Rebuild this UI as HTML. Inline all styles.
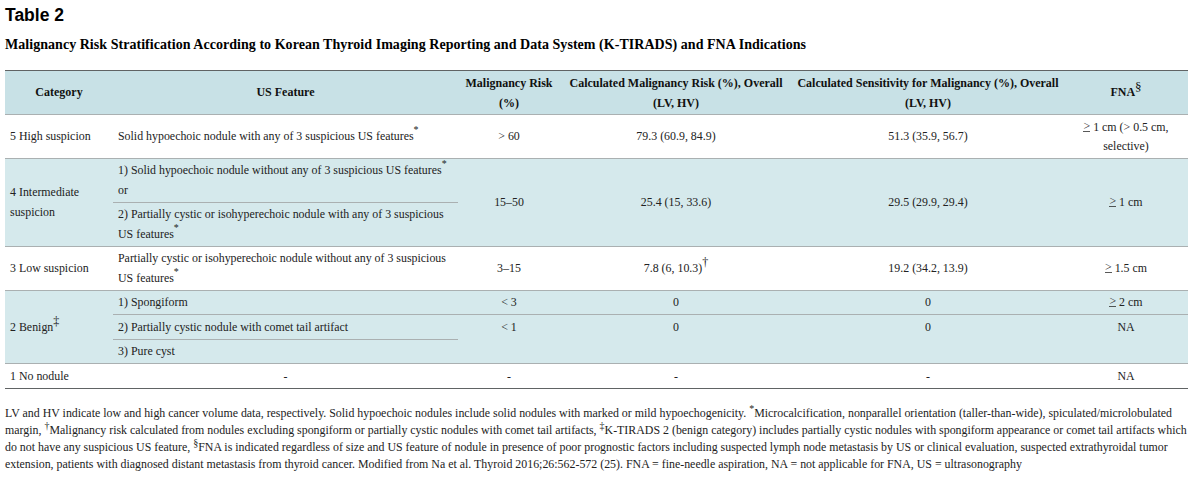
<!DOCTYPE html>
<html><head><meta charset="utf-8">
<style>
html,body{margin:0;padding:0;background:#fff;width:1200px;height:480px;overflow:hidden;position:relative}
div{position:absolute;box-sizing:border-box}
.t2{left:5px;top:5px;font-family:"Liberation Sans",sans-serif;font-weight:bold;font-size:17.5px;line-height:20px;color:#000;white-space:nowrap}
.ti{left:5px;top:37px;font-family:"Liberation Serif",serif;font-weight:bold;font-size:14px;letter-spacing:0.04px;line-height:16px;color:#000;white-space:nowrap}
.c{font-family:"Liberation Serif",serif;font-size:11.9px;line-height:20px;color:#222;white-space:nowrap}
.b{font-weight:bold;color:#111;font-size:12px}
sup{font-size:12px;line-height:0;vertical-align:6px}
sup.as{font-size:10px;vertical-align:7px}
.ge{position:relative;display:inline-block}
.ge i{font-style:normal;position:relative;top:-1px}
.ge::after{content:"";position:absolute;left:0px;width:7px;top:14px;height:1px;background:currentColor;opacity:0.75}
.sh{font-size:13px;vertical-align:5px;font-weight:normal}
.fn sup{font-size:10px;vertical-align:5px}
.fn{left:5px;top:405px;width:1190px;font-family:"Liberation Serif",serif;font-size:11.9px;line-height:17px;color:#222;white-space:nowrap}
</style></head><body>
<div class="t2">Table 2</div>
<div class="ti">Malignancy Risk Stratification According to Korean Thyroid Imaging Reporting and Data System (K-TIRADS) and FNA Indications</div>
<div style="left:5px;top:71px;width:1183px;height:43px;background:#c8e1e6"></div>
<div style="left:5px;top:159px;width:1183px;height:87px;background:#d5e9ec"></div>
<div style="left:5px;top:291px;width:1183px;height:72px;background:#d5e9ec"></div>
<div style="left:5px;top:70px;width:1183px;height:1px;background:#606364"></div>
<div style="left:5px;top:114px;width:1183px;height:1px;background:#aab0b1"></div>
<div style="left:5px;top:158px;width:1183px;height:1px;background:#aab0b1"></div>
<div style="left:5px;top:246px;width:1183px;height:1px;background:#aab0b1"></div>
<div style="left:5px;top:290px;width:1183px;height:1px;background:#aab0b1"></div>
<div style="left:5px;top:363px;width:1183px;height:1px;background:#aab0b1"></div>
<div style="left:5px;top:388px;width:1183px;height:1px;background:#606364"></div>
<div style="left:113px;top:202px;width:345px;height:1px;background:#aab0b1"></div>
<div style="left:113px;top:314px;width:1075px;height:1px;background:#aab0b1"></div>
<div style="left:113px;top:339px;width:345px;height:1px;background:#aab0b1"></div>
<div class="c b" style="left:10px;top:82px;width:98px;text-align:center">Category</div>
<div class="c b" style="left:118px;top:82px;width:335px;text-align:center">US Feature</div>
<div class="c b" style="left:463px;top:73px;width:92px;text-align:center">Malignancy Risk<br>(%)</div>
<div class="c b" style="left:565px;top:73px;width:222px;text-align:center">Calculated Malignancy Risk (%), Overall<br>(LV, HV)</div>
<div class="c b" style="left:797px;top:73px;width:262px;text-align:center">Calculated Sensitivity for Malignancy (%), Overall<br>(LV, HV)</div>
<div class="c b" style="left:1069px;top:82px;width:114px;text-align:center">FNA<sup class="sh">§</sup></div>
<div class="c" style="left:10px;top:126px;width:98px;text-align:left">5 High suspicion</div>
<div class="c" style="left:118px;top:126px;width:335px;text-align:left">Solid hypoechoic nodule with any of 3 suspicious US features<sup class="as">*</sup></div>
<div class="c" style="left:463px;top:126px;width:92px;text-align:center">&gt; 60</div>
<div class="c" style="left:565px;top:126px;width:222px;text-align:center">79.3 (60.9, 84.9)</div>
<div class="c" style="left:797px;top:126px;width:262px;text-align:center">51.3 (35.9, 56.7)</div>
<div class="c" style="left:1069px;top:116px;width:114px;text-align:center"><span style="position:relative;top:1px"><span class="ge"><i>&gt;</i></span> 1 cm (&gt; 0.5 cm,</span><br>selective)</div>
<div class="c" style="left:10px;top:182px;width:98px;text-align:left">4 Intermediate<br>suspicion</div>
<div class="c" style="left:118px;top:160px;width:335px;text-align:left">1) Solid hypoechoic nodule without any of 3 suspicious US features<sup class="as">*</sup><br>or</div>
<div class="c" style="left:118px;top:204px;width:335px;text-align:left">2) Partially cystic or isohyperechoic nodule with any of 3 suspicious<br>US features<sup class="as">*</sup></div>
<div class="c" style="left:463px;top:192px;width:92px;text-align:center">15–50</div>
<div class="c" style="left:565px;top:192px;width:222px;text-align:center">25.4 (15, 33.6)</div>
<div class="c" style="left:797px;top:192px;width:262px;text-align:center">29.5 (29.9, 29.4)</div>
<div class="c" style="left:1069px;top:192px;width:114px;text-align:center"><span class="ge"><i>&gt;</i></span> 1 cm</div>
<div class="c" style="left:10px;top:258px;width:98px;text-align:left">3 Low suspicion</div>
<div class="c" style="left:118px;top:248px;width:335px;text-align:left">Partially cystic or isohyperechoic nodule without any of 3 suspicious<br>US features<sup class="as">*</sup></div>
<div class="c" style="left:463px;top:258px;width:92px;text-align:center">3–15</div>
<div class="c" style="left:565px;top:258px;width:222px;text-align:center">7.8 (6, 10.3)<sup>†</sup></div>
<div class="c" style="left:797px;top:258px;width:262px;text-align:center">19.2 (34.2, 13.9)</div>
<div class="c" style="left:1069px;top:258px;width:114px;text-align:center"><span class="ge"><i>&gt;</i></span> 1.5 cm</div>
<div class="c" style="left:10px;top:317px;width:98px;text-align:left">2 Benign<sup>‡</sup></div>
<div class="c" style="left:118px;top:292px;width:335px;text-align:left">1) Spongiform</div>
<div class="c" style="left:118px;top:317px;width:335px;text-align:left">2) Partially cystic nodule with comet tail artifact</div>
<div class="c" style="left:118px;top:341px;width:335px;text-align:left">3) Pure cyst</div>
<div class="c" style="left:463px;top:292px;width:92px;text-align:center">&lt; 3</div>
<div class="c" style="left:565px;top:292px;width:222px;text-align:center">0</div>
<div class="c" style="left:797px;top:292px;width:262px;text-align:center">0</div>
<div class="c" style="left:1069px;top:292px;width:114px;text-align:center"><span class="ge"><i>&gt;</i></span> 2 cm</div>
<div class="c" style="left:463px;top:317px;width:92px;text-align:center">&lt; 1</div>
<div class="c" style="left:565px;top:317px;width:222px;text-align:center">0</div>
<div class="c" style="left:797px;top:317px;width:262px;text-align:center">0</div>
<div class="c" style="left:1069px;top:317px;width:114px;text-align:center">NA</div>
<div class="c" style="left:10px;top:366px;width:98px;text-align:left">1 No nodule</div>
<div class="c" style="left:118px;top:366px;width:335px;text-align:center">-</div>
<div class="c" style="left:463px;top:366px;width:92px;text-align:center">-</div>
<div class="c" style="left:565px;top:366px;width:222px;text-align:center">-</div>
<div class="c" style="left:797px;top:366px;width:262px;text-align:center">-</div>
<div class="c" style="left:1069px;top:366px;width:114px;text-align:center">NA</div>
<div class="fn">LV and HV indicate low and high cancer volume data, respectively. Solid hypoechoic nodules include solid nodules with marked or mild hypoechogenicity. <sup>*</sup>Microcalcification, nonparallel orientation (taller-than-wide), spiculated/microlobulated<br>margin, <sup>†</sup>Malignancy risk calculated from nodules excluding spongiform or partially cystic nodules with comet tail artifacts, <sup>‡</sup>K-TIRADS 2 (benign category) includes partially cystic nodules with spongiform appearance or comet tail artifacts which<br>do not have any suspicious US feature, <sup>§</sup>FNA is indicated regardless of size and US feature of nodule in presence of poor prognostic factors including suspected lymph node metastasis by US or clinical evaluation, suspected extrathyroidal tumor<br>extension, patients with diagnosed distant metastasis from thyroid cancer. Modified from Na et al. Thyroid 2016;26:562-572 (25). FNA = fine-needle aspiration, NA = not applicable for FNA, US = ultrasonography</div>
</body></html>
